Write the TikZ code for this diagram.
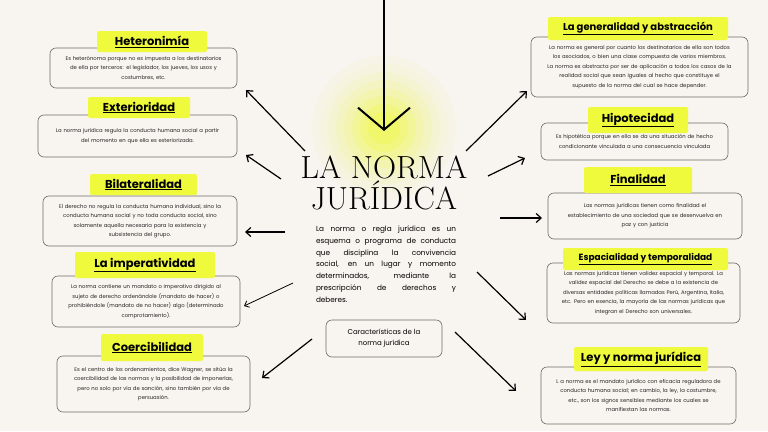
\documentclass[tikz,border=0pt]{standalone}
\usepackage{fontspec}
\setsansfont{Poppins}
\usetikzlibrary{arrows.meta}
\definecolor{bg}{HTML}{F8F4EF}
\definecolor{hl}{HTML}{F0FA3C}
\definecolor{bx}{HTML}{6E6A66}
\tikzset{
 lbl/.style={fill=hl,rounded corners=2pt,inner sep=0pt,font=\sffamily\bfseries\fontsize{11.5}{13}\selectfont},
 card/.style={draw=bx,line width=0.6pt,rounded corners=6pt,align=center,inner sep=0pt,font=\sffamily\fontsize{5.3}{9.5}\selectfont,text=black!85},
 arr/.style={-{Straight Barb[length=5pt,width=9pt]},line width=1.2pt},
 arrt/.style={-{Straight Barb[length=4pt,width=7pt]},line width=0.8pt}
}
\newcommand{\ul}[1]{\underline{#1}}
\begin{document}
\begin{tikzpicture}[x=1pt,y=-1pt]
\fill[bg] (0,0) rectangle (768,431);
\useasboundingbox (0,0) rectangle (768,431);
% glow
\foreach \r/\o in {72/0.04,64/0.05,56/0.07,48/0.1,40/0.14,32/0.2,24/0.25,16/0.3}{\fill[hl,opacity=\o] (384,128) circle (\r);}
% left cards
\node[card,minimum width=187,minimum height=40,text width=180] (c1) at (143.5,68) {Es heterónoma porque no es impuesta a los destinatarios\\de ella por terceros: el legislador, los jueves, los usos y\\costumbres, etc.};
\node[lbl,minimum width=110,minimum height=21] (l1) at (152,41.5) {\ul{Heteronimía}};
\node[card,minimum width=199,minimum height=42,text width=195] (c2) at (137.5,136) {La norma jurídica regula la conducta humana social a partir\\del momento en que ella es exteriorizada.};
\node[lbl,minimum width=102,minimum height=21] (l2) at (139,107.5) {\ul{Exterioridad}};
\node[card,minimum width=194,minimum height=50,text width=190] (c3) at (140,221) {El derecho no regula la conducta humana individual, sino la\\conducta humana social y no toda conducta social, sino\\solamente aquella necesaria para la existencia y\\subsistencia del grupo.};
\node[lbl,minimum width=107,minimum height=21] (l3) at (143.5,184.5) {\ul{Bilateralidad}};
\node[card,minimum width=188,minimum height=51,text width=184] (c4) at (146,301.5) {La norma contiene un mandato o imperativo dirigido al\\sujeto de derecho ordenándole (mandato de hacer) o\\prohibiéndole (mandato de no hacer) algo (determinado\\comprotamiento).};
\node[lbl,minimum width=140,minimum height=26] (l4) at (145,265) {\ul{La imperatividad}};
\node[card,minimum width=193,minimum height=56,text width=189] (c5) at (153.5,384) {Es el centro de los ordenamientos, dice Wagner, se sitúa la\\coercibilidad de las normas y la posibilidad de imponerlas,\\pero no solo por vía de sanción, sino también por vía de\\persuasión.};
\node[lbl,minimum width=102,minimum height=27] (l5) at (152,347.5) {\ul{Coercibilidad}};
% right cards
\node[card,minimum width=217,minimum height=60,text width=213] (r1) at (639.5,67) {La norma es general por cuanto los destinatarios de ella son todos\\los asociados, o bien una clase compuesta de varios miembros.\\La norma es abstracta por ser de aplicación a todos los casos de la\\realidad social que sean iguales al hecho que constituye el\\supuesto de la norma del cual se hace depender.};
\node[lbl,minimum width=180,minimum height=23,font=\sffamily\bfseries\fontsize{10}{12}\selectfont] (k1) at (638,28.5) {\ul{La generalidad y abstracción}};
\node[card,minimum width=187,minimum height=37,text width=183] (r2) at (634.5,141.5) {Es hipotética porque en ella se da una situación de hecho\\condicionante vinculada a una consecuencia vinculada};
\node[lbl,minimum width=100,minimum height=26] (k2) at (638,120) {\ul{Hipotecidad}};
\node[card,minimum width=194,minimum height=46,text width=190] (r3) at (645,216) {Las normas jurídicas tienen como finalidad el\\establecimiento de una sociedad que se desenvuelva en\\paz y con justicia};
\node[lbl,minimum width=108,minimum height=26] (k3) at (638,180) {\ul{Finalidad}};
\node[card,minimum width=193,minimum height=60,text width=189] (r4) at (643.5,293) {Las normas jurídicas tienen validez espacial y temporal. La\\validez espacial del Derecho se debe a la existencia de\\diversas entidades políticas llamadas Perú, Argentina, Italia,\\etc. Pero en esencia, la mayoría de las normas jurídicas que\\integran el Derecho son universales.};
\node[lbl,minimum width=165,minimum height=22,font=\sffamily\bfseries\fontsize{9}{10}\selectfont] (k4) at (645.5,259) {\ul{Espacialidad y temporalidad}};
\node[card,minimum width=195,minimum height=57,text width=191] (r5) at (638.5,395.5) {L a norma es el mandato jurídico con eficacia reguladora de\\conducta humana social; en cambio, la ley, la costumbre,\\etc., son los signos sensibles mediante los cuales se\\manifiestan las normas.};
\node[lbl,minimum width=134,minimum height=24] (k5) at (641,359) {\ul{Ley y norma jurídica}};
% centre
\node[font=\fontsize{32}{31}\selectfont,align=center,inner sep=0pt] (t) at (384,183) {LA NORMA\\JURÍDICA};
\node[font=\sffamily\fontsize{7.3}{11.8}\selectfont,text width=140,align=justify,inner sep=0pt] (d) at (386,264) {La norma o regla jurídica es un\linebreak esquema o programa de conducta\linebreak que disciplina la convivencia\linebreak social, en un lugar y momento\linebreak determinados, mediante la\linebreak prescripción de derechos y\linebreak deberes.};
\node[draw=bx,line width=0.6pt,rounded corners=6pt,minimum width=116,minimum height=37,align=center,inner sep=0pt,font=\sffamily\fontsize{7}{11}\selectfont] (ch) at (384,338.5) {Características de la\\norma jurídica};
% arrows
\coordinate (top) at (384,0);
\coordinate (tip) at (384,131);
\draw[line width=1.5pt,-{Straight Barb[length=22pt,width=52pt,line width=2pt]}] (top) -- (tip);
\coordinate (a1) at (305,151); \coordinate (a2) at (281,179); \coordinate (a3) at (285,232); \coordinate (a4) at (293,283); \coordinate (a5) at (312,339);
\coordinate (b1) at (466,151); \coordinate (b2) at (488,176); \coordinate (b3) at (500,218); \coordinate (b4) at (477,272); \coordinate (b5) at (455,332);
\coordinate (e1) at (246,90); \coordinate (e2) at (246,155); \coordinate (e3) at (245,232); \coordinate (e4) at (244,306); \coordinate (e5) at (262,378);
\coordinate (f1) at (527,91); \coordinate (f2) at (525,158); \coordinate (f3) at (542,218); \coordinate (f4) at (526,320); \coordinate (f5) at (516,391);
\draw[arr] (a1) -- (e1);
\draw[arr] (a2) -- (e2);
\draw[arr] (a3) -- (e3);
\draw[arrt] (a4) -- (e4);
\draw[arr] (a5) -- (e5);
\draw[arr] (b1) -- (f1);
\draw[arr] (b2) -- (f2);
\draw[arr] (b3) -- (f3);
\draw[arr] (b4) -- (f4);
\draw[arr] (b5) -- (f5);
\end{tikzpicture}
\end{document}
